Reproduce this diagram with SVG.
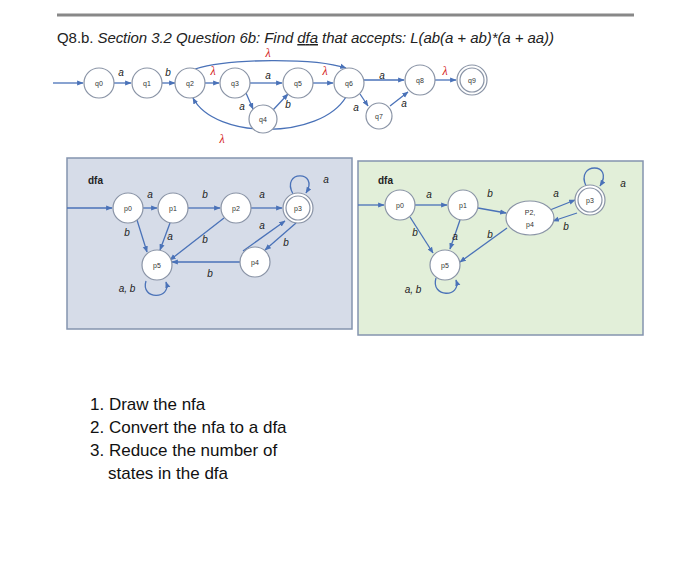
<svg xmlns="http://www.w3.org/2000/svg" width="700" height="567" viewBox="0 0 700 567">
<defs>
<marker id="ar" viewBox="0 0 10 10" refX="9" refY="5" markerWidth="5" markerHeight="5" orient="auto"><path d="M0,1 L10,5 L0,9 z" fill="#4a72b8"/></marker>
<style>
.n{fill:#fff;stroke:#8a94a6;stroke-width:1.2}
.ng{fill:none;stroke:#8a94a6;stroke-width:1.2}
.t{font-family:"Liberation Sans",sans-serif;font-size:7px;fill:#333;text-anchor:middle;dominant-baseline:central}
.e{fill:none;stroke:#4a72b8;stroke-width:1.3;marker-end:url(#ar)}
.l{font-family:"Liberation Sans",sans-serif;font-style:italic;font-size:10px;fill:#222;text-anchor:middle}
.r{font-family:"Liberation Serif",serif;font-style:italic;font-size:12px;fill:#d42020;text-anchor:middle}
.h{font-family:"Liberation Sans",sans-serif;font-weight:bold;font-size:10px;fill:#222}
.q{font-family:"Liberation Sans",sans-serif;font-size:17px;fill:#111}
</style>
</defs>
<rect width="700" height="567" fill="#fff"/>
<line x1="57" y1="15" x2="634" y2="15" stroke="#888" stroke-width="3"/>
<text x="57" y="43" font-family="Liberation Sans,sans-serif" font-size="15" fill="#222" textLength="497">Q8.b. <tspan font-style="italic">Section 3.2 Question 6b: Find <tspan text-decoration="underline">dfa</tspan> that accepts:  L(ab(a + ab)*(a + aa))</tspan></text>
<rect x="67" y="158" width="285" height="171" fill="#d6dce8" stroke="#8494ae" stroke-width="1.5"/>
<rect x="358" y="161" width="285" height="174" fill="#e2efd9" stroke="#8494ae" stroke-width="1.5"/>
<g id="connectors">
<path class="e" d="M53,83 H83"/><path class="e" d="M114,83 H131"/><path class="e" d="M162,83 H175"/><path class="e" d="M205,83 H219"/>
<path class="e" d="M250,83 H282"/><path class="e" d="M313,83 H333"/><path class="e" d="M364,80 H404"/><path class="e" d="M435,80 H456"/>
<path class="e" d="M246,93 L253,109"/><path class="e" d="M273,110 L288,94"/><path class="e" d="M360,94 L368,106"/><path class="e" d="M390,106 L408,92"/>
<path class="e" d="M195,69 C230,58 315,58 346,68"/>
<path class="e" d="M346,97 C320,140 215,140 193,98"/>
<path class="e" d="M67,208 H112"/><path class="e" d="M143,208 H157"/><path class="e" d="M188,208 H220"/><path class="e" d="M251,208 H282"/>
<path class="e" d="M137,220 L147,252"/><path class="e" d="M170,223 L160,250"/><path class="e" d="M224,218 L170,260"/>
<path class="e" d="M243,251 L285,221"/><path class="e" d="M296,223 L265,250"/><path class="e" d="M240,262 H172"/>
<path class="e" d="M146,281 C140,300 172,300 166,282"/>
<path class="e" d="M293,194 C280,170 320,170 306,193"/>
<path class="e" d="M358,205 H384"/><path class="e" d="M415,205 H447"/><path class="e" d="M478,208 L506,213"/>
<path class="e" d="M410,217 L433,253"/><path class="e" d="M460,220 L450,249"/><path class="e" d="M507,228 L460,262"/>
<path class="e" d="M550,210 L575,200"/><path class="e" d="M577,213 L553,221"/>
<path class="e" d="M436,278 C430,298 462,298 456,280"/>
<path class="e" d="M586,186 C575,162 615,162 600,186"/>
</g>
<g id="q0"><circle class="n" cx="99" cy="83" r="15"/><text class="t" x="99" y="83">q0</text></g>
<g id="q1"><circle class="n" cx="147" cy="83" r="15"/><text class="t" x="147" y="83">q1</text></g>
<g id="q2"><circle class="n" cx="190" cy="83" r="15"/><text class="t" x="190" y="83">q2</text></g>
<g id="q3"><circle class="n" cx="235" cy="83" r="15"/><text class="t" x="235" y="83">q3</text></g>
<g id="q4"><circle class="n" cx="263" cy="119" r="14"/><text class="t" x="263" y="119">q4</text></g>
<g id="q5"><circle class="n" cx="298" cy="83" r="15"/><text class="t" x="298" y="83">q5</text></g>
<g id="q6"><circle class="n" cx="349" cy="83" r="15"/><text class="t" x="349" y="83">q6</text></g>
<g id="q7"><circle class="n" cx="379" cy="116" r="13"/><text class="t" x="379" y="116">q7</text></g>
<g id="q8"><circle class="n" cx="420" cy="80" r="15"/><text class="t" x="420" y="80">q8</text></g>
<g id="q9"><circle class="n" cx="472" cy="80" r="15"/><circle class="ng" cx="472" cy="80" r="12"/><text class="t" x="472" y="80">q9</text></g>
<g id="nfa-labels">
<text class="l" x="121" y="76">a</text><text class="l" x="168" y="76">b</text><text class="r" x="213" y="75">λ</text>
<text class="l" x="268" y="79">a</text><text class="r" x="325" y="75">λ</text><text class="l" x="382" y="79">a</text><text class="r" x="445" y="75">λ</text>
<text class="r" x="268" y="57">λ</text><text class="r" x="222" y="143">λ</text>
<text class="l" x="242" y="110">a</text><text class="l" x="288" y="108">b</text><text class="l" x="356" y="111">a</text><text class="l" x="404" y="107">a</text>
</g>
<text class="h" x="88" y="184">dfa</text>
<g id="lp0"><circle class="n" cx="128" cy="208" r="15"/><text class="t" x="128" y="208">p0</text></g>
<g id="lp1"><circle class="n" cx="173" cy="208" r="15"/><text class="t" x="173" y="208">p1</text></g>
<g id="lp2"><circle class="n" cx="236" cy="208" r="15"/><text class="t" x="236" y="208">p2</text></g>
<g id="lp3"><circle class="n" cx="298" cy="208" r="15"/><circle class="ng" cx="298" cy="208" r="12"/><text class="t" x="298" y="208">p3</text></g>
<g id="lp4"><circle class="n" cx="255" cy="262" r="15"/><text class="t" x="255" y="262">p4</text></g>
<g id="lp5"><circle class="n" cx="157" cy="265" r="15"/><text class="t" x="157" y="265">p5</text></g>
<g id="left-labels">
<text class="l" x="150" y="198">a</text><text class="l" x="205" y="198">b</text><text class="l" x="262" y="198">a</text><text class="l" x="326" y="183">a</text>
<text class="l" x="127" y="236">b</text><text class="l" x="170" y="240">a</text><text class="l" x="205" y="243">b</text>
<text class="l" x="262" y="229">a</text><text class="l" x="286" y="246">b</text><text class="l" x="210" y="277">b</text><text class="l" x="127" y="292">a, b</text>
</g>
<text class="h" x="378" y="184">dfa</text>
<g id="rp0"><circle class="n" cx="400" cy="205" r="15"/><text class="t" x="400" y="205">p0</text></g>
<g id="rp1"><circle class="n" cx="463" cy="205" r="15"/><text class="t" x="463" y="205">p1</text></g>
<g id="rp24"><ellipse class="n" cx="530" cy="218" rx="24" ry="17"/><text class="t" x="530" y="212">P2,</text><text class="t" x="530" y="224">p4</text></g>
<g id="rp3"><circle class="n" cx="590" cy="200" r="15"/><circle class="ng" cx="590" cy="200" r="12"/><text class="t" x="590" y="200">p3</text></g>
<g id="rp5"><circle class="n" cx="445" cy="265" r="15"/><text class="t" x="445" y="265">p5</text></g>
<g id="right-labels">
<text class="l" x="429" y="198">a</text><text class="l" x="490" y="197">b</text><text class="l" x="556" y="197">a</text><text class="l" x="566" y="230">b</text><text class="l" x="623" y="187">a</text>
<text class="l" x="415" y="236">b</text><text class="l" x="455" y="240">a</text><text class="l" x="490" y="238">b</text><text class="l" x="413" y="293">a, b</text>
</g>
<g id="steps">
<text class="q" x="90" y="410">1. Draw the nfa</text>
<text class="q" x="90" y="433">2. Convert the nfa to a dfa</text>
<text class="q" x="90" y="456">3. Reduce the number of</text>
<text class="q" x="108" y="479">states in the dfa</text>
</g>
</svg>
